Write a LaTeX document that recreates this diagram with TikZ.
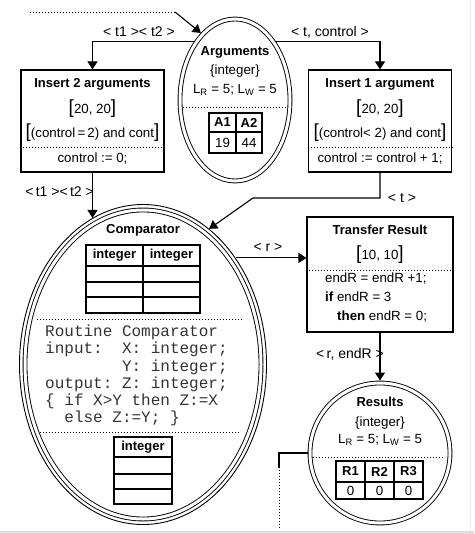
\documentclass[tikz,border=0pt]{standalone}
\usepackage{fontspec}
\setmainfont{Liberation Sans}
\setmonofont{Liberation Mono}
\usetikzlibrary{arrows.meta, positioning, shapes.geometric, calc}

\newcommand{\lsq}{{\fontsize{19}{19}\selectfont[}}
\newcommand{\rsq}{{\fontsize{19}{19}\selectfont]}}

\begin{document}
\begin{tikzpicture}[x=1pt, y=1pt,
  trans/.style={draw, line width=1.1pt, minimum width=143pt, minimum height=102pt, inner sep=0pt},
  place/.style={ellipse, draw, line width=0.9pt, double, double distance=3pt,
                inner sep=0pt, outer sep=2.4pt},
  arrow/.style={-{Triangle[length=8pt, width=10pt]}, line width=1.1pt},
  wire/.style={line width=1.1pt},
  sep/.style={line width=0.9pt, dash pattern=on 1pt off 2pt},
  tbl/.style={line width=1.4pt},
  hdr/.style={font=\bfseries\fontsize{13}{15}\selectfont, inner sep=0pt},
  txt/.style={font=\fontsize{13.3}{15}\selectfont, inner sep=0pt},
  lbl/.style={font=\fontsize{14}{16}\selectfont, inner sep=0pt}]

  \useasboundingbox (0,0) rectangle (474,-534);
  \fill[black!13] (0,-531) rectangle (474,-534);
  \draw[black!8] (470,0) -- (470,-531);

  % places
  \node[place, minimum width=110pt, minimum height=162pt] (args) at (235,-100) {};
  \node[ellipse, draw, line width=0.9pt, minimum width=247pt, minimum height=320pt,
        inner sep=0pt, outer sep=0.45pt] (comp) at (143,-364.5) {};
  \node[place, minimum width=236pt, minimum height=309pt] (compin) at (comp.center) {};
  \node[place, minimum width=140pt, minimum height=140pt] (res) at (380,-453) {};

  % transitions
  \node[trans] (ins2) at (92.5,-121) {};
  \node[trans] (ins1) at (380,-121) {};
  \node[trans, minimum width=146pt, minimum height=115pt] (tres) at (380,-274.5) {};

  % Arguments
  \node[hdr] (argsH) at (235,-52) {Arguments};
  \node[txt] (argsT) at (235,-71) {\{integer\}};
  \node[txt] (argsL) at (235,-90) {L\textsubscript{R} = 5; L\textsubscript{W} = 5};
  \draw[sep] (183,-107) -- (288,-107);
  \draw[tbl] (209,-113) rectangle (262,-153);
  \draw[tbl] (236,-113) -- (236,-153) (209,-132) -- (262,-132);
  \node[hdr] (a1) at (222.5,-122.5) {A1};
  \node[hdr] (a2) at (249,-122.5) {A2};
  \node[txt] (v1) at (222.5,-142.5) {19};
  \node[txt] (v2) at (249,-142.5) {44};

  % Insert 2 arguments
  \node[hdr] (ins2H) at (92.5,-84) {Insert 2 arguments};
  \node[txt] (ins2W) at (92.5,-109) {\lsq 20, 20\rsq};
  \node[txt] (ins2G) at (92.5,-133) {\lsq(control\,=\,2) and cont\rsq};
  \draw[sep] (ins2.west |- 0,-147) -- (ins2.east |- 0,-147);
  \node[txt] (ins2A) at (92.5,-159) {control := 0;};

  % Insert 1 argument
  \node[hdr] (ins1H) at (380,-84) {Insert 1 argument};
  \node[txt] (ins1W) at (380,-109) {\lsq 20, 20\rsq};
  \node[txt] (ins1G) at (380,-133) {\lsq(control< 2) and cont\rsq};
  \draw[sep] (ins1.west |- 0,-147) -- (ins1.east |- 0,-147);
  \node[txt] (ins1A) at (380,-159) {control := control + 1;};

  % Comparator
  \node[hdr] (compH) at (143,-230) {Comparator};
  \draw[tbl] (86,-245) rectangle (200,-313);
  \draw[tbl] (143,-245) -- (143,-313);
  \foreach \yy in {-266,-282,-297} \draw[tbl] (86,\yy) -- (200,\yy);
  \node[hdr] (ct1) at (114.5,-255.5) {integer};
  \node[hdr] (ct2) at (171.5,-255.5) {integer};
  \draw[sep] (37,-319) -- (243,-319);
  \node[anchor=north west, align=left, inner sep=0pt, text=black!80,
        font=\ttfamily\fontsize{16}{17.2}\selectfont] (code) at (45,-325)
       {Routine Comparator\\
        input:~~X: integer;\\
        ~~~~~~~~Y: integer;\\
        output:~Z: integer;\\
        \{ if X>Y then Z:=X\\
        ~~else Z:=Y; \}};
  \draw[sep] (40,-432) -- (240,-432);
  \draw[tbl] (114,-437) rectangle (172,-504);
  \foreach \yy in {-457,-474,-489} \draw[tbl] (114,\yy) -- (172,\yy);
  \node[hdr] (ct3) at (143,-447) {integer};

  % Transfer Result
  \node[hdr] (tresH) at (380,-230) {Transfer Result};
  \node[txt] (tresW) at (380,-255) {\lsq 10, 10\rsq};
  \draw[sep] (tres.west |- 0,-270) -- (tres.east |- 0,-270);
  \node[anchor=north west, align=left, inner sep=0pt,
        font=\fontsize{13.3}{19}\selectfont] (tresA) at (325,-273)
       {endR = endR +1;\\
        \textbf{if} endR = 3\\
        \hspace*{12pt}\textbf{then} endR = 0;};

  % Results
  \node[hdr] (resH) at (380,-402) {Results};
  \node[txt] (resT) at (380,-423) {\{integer\}};
  \node[txt] (resL) at (380,-440) {L\textsubscript{R} = 5; L\textsubscript{W} = 5};
  \draw[sep] (313,-457) -- (445,-457);
  \draw[tbl] (336,-461) rectangle (423,-499);
  \draw[tbl] (365,-461) -- (365,-499) (394,-461) -- (394,-499) (336,-482) -- (423,-482);
  \node[hdr] (r1) at (350.5,-471.5) {R1};
  \node[hdr] (r2) at (379.5,-471.5) {R2};
  \node[hdr] (r3) at (408.5,-471.5) {R3};
  \node[txt] (z1) at (350.5,-490.5) {0};
  \node[txt] (z2) at (379.5,-490.5) {0};
  \node[txt] (z3) at (408.5,-490.5) {0};

  % arcs
  \coordinate (src) at (30,-12);
  \coordinate (srcb) at (175,-12);
  \coordinate (tbend) at (253,-198);
  \coordinate (lend) at (279,-528);
  \coordinate (lmid) at (279,-468);
  \coordinate (lcorner) at (279,-453);

  \draw[sep] (src) -- (srcb);
  \draw[arrow] (srcb) -- (args.117);
  \draw[arrow] (args.125) -| (ins2.north);
  \draw[arrow] (args.55) -| (ins1.north);
  \draw[arrow] (ins2.south) -- (ins2.south |- comp.109);
  \draw[arrow] (ins1.south) |- (tbend) -- (comp.64);
  \draw[arrow] (comp.49) -- (comp.49 -| tres.west);
  \draw[arrow] (tres.south) -- (res.north);
  \draw[sep] (lend) -- (lmid);
  \draw[wire] (lmid) -- (lcorner) -- (res.west);

  % arc labels
  \node[lbl] (l1) at (139,-32) {< t1 >< t2 >};
  \node[lbl] (l2) at (330,-32) {< t, control >};
  \node[lbl, anchor=east] (l3) at (94,-192) {<\,t1 ><\,t2 >};
  \node[lbl] (l4) at (402,-198) {< t >};
  \node[lbl] (l5) at (268,-247) {< r >};
  \node[lbl, anchor=east] (l6) at (384,-354) {<\,r, endR >};
\end{tikzpicture}
\end{document}
